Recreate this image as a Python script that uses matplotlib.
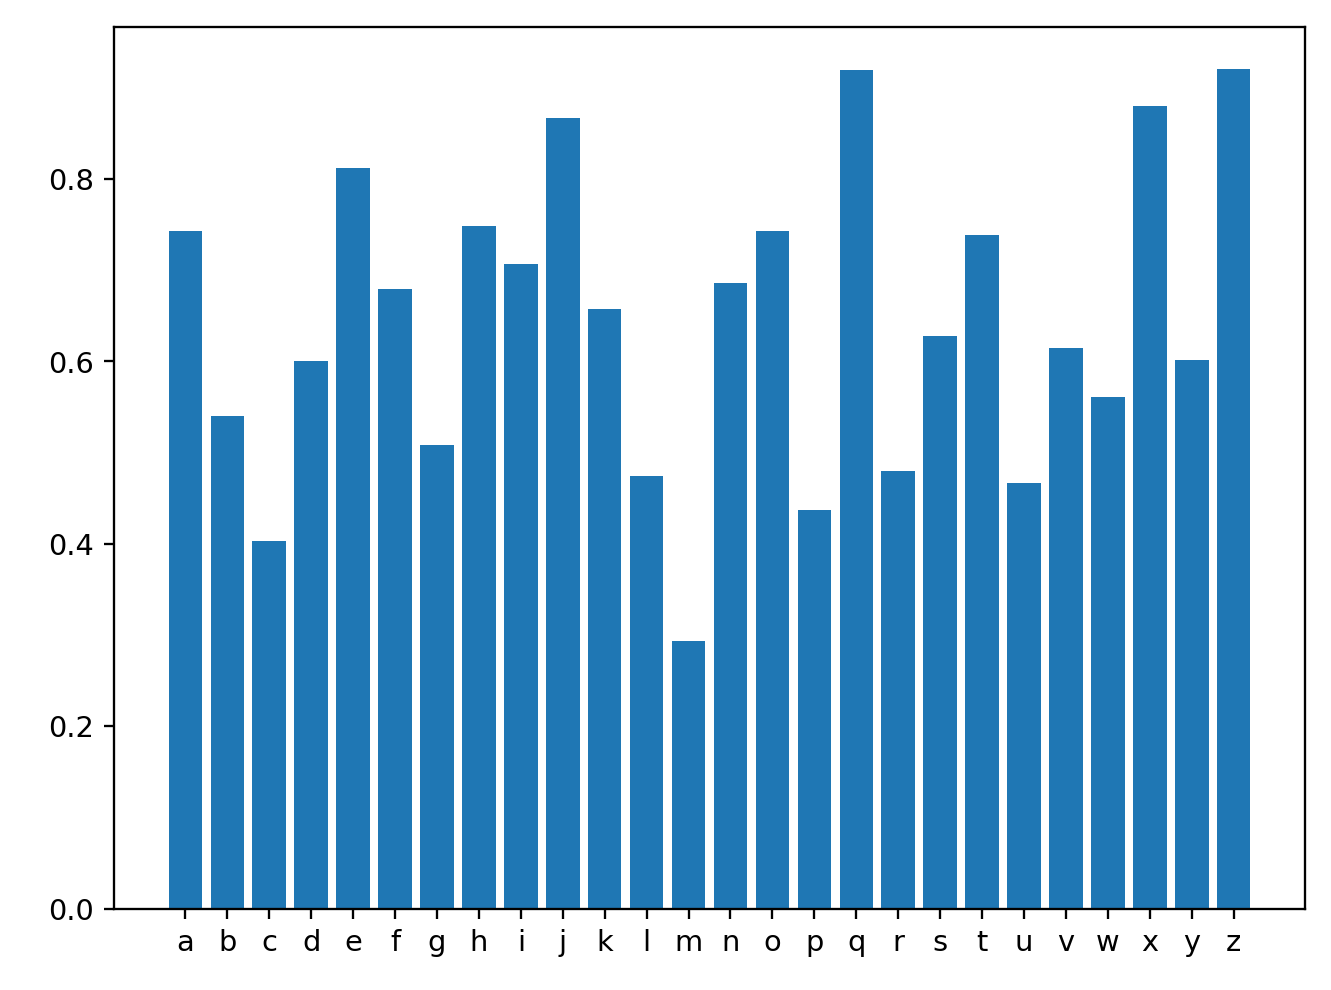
import matplotlib
matplotlib.use("Agg")
import matplotlib.pyplot as plt

letters = list("abcdefghijklmnopqrstuvwxyz")
values = [0.743, 0.540, 0.403, 0.600, 0.812, 0.679, 0.508, 0.749, 0.707, 0.867,
          0.657, 0.474, 0.294, 0.686, 0.743, 0.437, 0.919, 0.480, 0.628, 0.739,
          0.467, 0.615, 0.561, 0.880, 0.602, 0.921]

fig, ax = plt.subplots(figsize=(6.4, 4.76), dpi=208)
fig.subplots_adjust(left=0.086, right=0.980, top=0.973, bottom=0.082)
ax.bar(letters, values, color="#1f77b4")
fig.savefig("out.png")
